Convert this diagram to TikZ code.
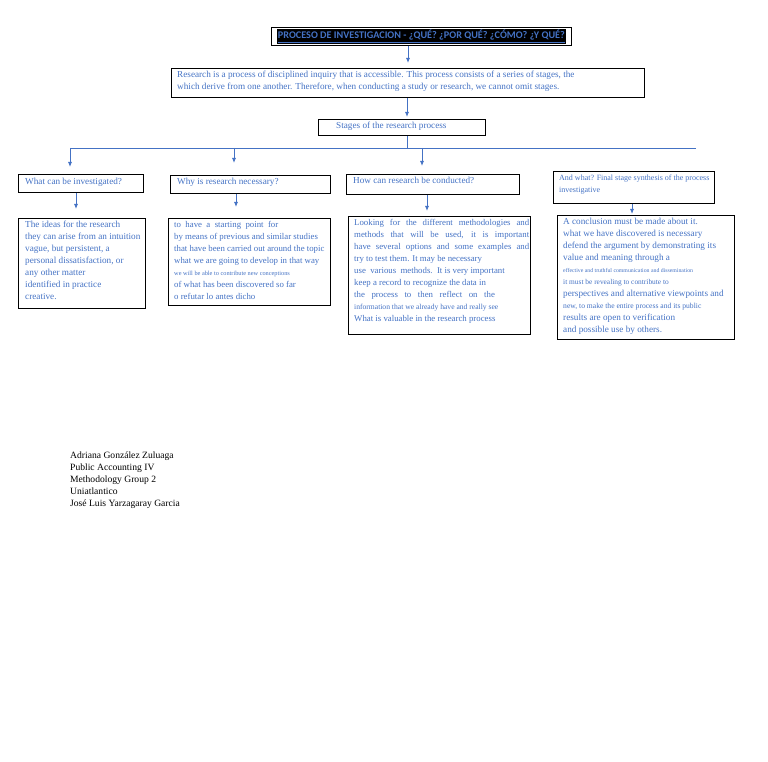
\documentclass[tikz,border=0pt]{standalone}
\usepackage{fontspec}
\usetikzlibrary{arrows.meta}
\setmainfont{Liberation Serif}
\newfontfamily\titlefont{Carlito}
\begin{document}
\definecolor{tb}{RGB}{68,114,196}
\begin{tikzpicture}[x=1pt,y=-1pt,
  box/.style={draw=black,line width=0.9pt,anchor=north west,inner sep=0pt},
  txt/.style={anchor=north west,text=tb,font=\fontsize{9.2}{12}\selectfont,align=left,inner sep=0pt},
  arr/.style={draw=tb,line width=0.8pt,-{Latex[length=5pt,width=4pt]}}]
\useasboundingbox (0,0) rectangle (768,762);
% boxes
\node[box,minimum width=300pt,minimum height=18pt] (t) at (271,27) {};
\node[fill=black,anchor=center,inner sep=1pt,text=tb,font=\titlefont\bfseries\fontsize{10.2}{11}\selectfont] (tt) at (t.center) {\underline{PROCESO DE INVESTIGACION - ¿QUÉ? ¿POR QUÉ? ¿CÓMO? ¿Y QUÉ?}};
\node[box,minimum width=473pt,minimum height=29pt] (r) at (171,68) {};
\node[txt] (rt) at (177,71) {Research is a process of disciplined inquiry that is accessible. This process consists of a series of stages, the\\which derive from one another. Therefore, when conducting a study or research, we cannot omit stages.};
\node[box,minimum width=167pt,minimum height=16pt] (s) at (318,119) {};
\node[txt] (st) at (336,122) {Stages of the research process};
% branch
\coordinate (b0) at (407,148);
\coordinate (bl) at (70,148);
\coordinate (br) at (696,148);
\coordinate (b2) at (234,148);
\coordinate (b3) at (422,148);
\draw[draw=tb,line width=0.8pt] (s.south -| b0) -- (b0);
\draw[draw=tb,line width=0.8pt] (bl) -- (br);
\node[box,minimum width=125pt,minimum height=18pt] (q1) at (18,174) {};
\node[txt] (q1t) at (25,178) {What can be investigated?};
\node[box,minimum width=160pt,minimum height=18pt] (q2) at (170,175) {};
\node[txt] (q2t) at (177,178) {Why is research necessary?};
\node[box,minimum width=173pt,minimum height=20pt] (q3) at (346,174) {};
\node[txt] (q3t) at (353,177) {How can research be conducted?};
\node[box,minimum width=161pt,minimum height=32pt] (q4) at (553,171) {};
\node[txt,font=\fontsize{8}{12}\selectfont] (q4t) at (559,175) {And what? Final stage synthesis of the process\\investigative};
\draw[arr] (bl) -- (70,167);
\draw[arr] (b2) -- (234,163);
\draw[arr] (b3) -- (422,166);
% content boxes
\node[box,minimum width=127pt,minimum height=90pt] (c1) at (18,218) {};
\node[txt] (c1t) at (25,221) {The ideas for the research\\they can arise from an intuition\\vague, but persistent, a\\personal dissatisfaction, or\\any other matter\\identified in practice\\creative.};
\node[box,minimum width=162pt,minimum height=87pt] (c2) at (168,218) {};
\node[txt,font=\fontsize{8.8}{12}\selectfont] (c2t) at (174,221) {to\ \ have\ \ a\ \ starting\ \ point\ \ for\\by means of previous and similar studies\\that have been carried out around the topic\\what we are going to develop in that way\\{\fontsize{6.3}{12}\selectfont we will be able to contribute new conceptions}\\of what has been discovered so far\\o refutar lo antes dicho};
\node[box,minimum width=182pt,minimum height=118pt] (c3) at (348,216) {};
\node[txt,text width=175pt,align=justify,font=\fontsize{8.8}{12}\selectfont] (c3t) at (354,219) {Looking for the different methodologies and\linebreak methods that will be used, it is important\linebreak have several options and some examples and\linebreak try to test them. It may be necessary\\use\ \ various\ \ methods.\ \ It is very important\\keep a record to recognize the data in\\the\ \ \ process\ \ \ to\ \ \ then\ \ \ reflect\ \ \ on\ \ \ the\\{\fontsize{7.6}{12}\selectfont information that we already have and really see}\\What is valuable in the research process};
\node[box,minimum width=177pt,minimum height=124pt] (c4) at (557,215) {};
\node[txt] (c4t) at (563,218) {A conclusion must be made about it.\\what we have discovered is necessary\\defend the argument by demonstrating its\\value and meaning through a\\{\fontsize{5.8}{12}\selectfont effective and truthful communication and dissemination}\\{\fontsize{7.4}{12}\selectfont it must be revealing to contribute to}\\perspectives and alternative viewpoints and\\{\fontsize{7.6}{12}\selectfont new, to make the entire process and its public}\\results are open to verification\\and possible use by others.};
\draw[arr] (q1.south -| 76,0) -- (76,209);
\draw[arr] (q2.south -| 236,0) -- (236,207);
\draw[arr] (q3.south -| 427,0) -- (427,211);
\draw[arr] (q4.south -| 632,0) -- (632,214);
\draw[arr] (t.south -| 408,0) -- (408,63);
\draw[arr] (r.south -| 407,0) -- (407,117);
% authors
\node[anchor=north west,inner sep=0pt,align=left,font=\fontsize{9.6}{12}\selectfont] (au) at (70,452) {Adriana González Zuluaga\\Public Accounting IV\\Methodology Group 2\\Uniatlantico\\José Luis Yarzagaray Garcia};
\end{tikzpicture}
\end{document}
